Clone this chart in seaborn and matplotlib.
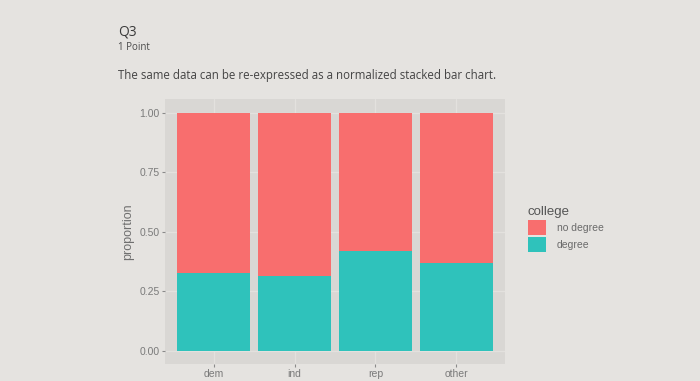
import pandas as pd
import matplotlib
matplotlib.use("Agg")
import matplotlib.pyplot as plt
import seaborn as sns

# Data
party = ["dem", "ind", "rep", "other"]
degree = [0.325, 0.314, 0.419, 0.371]
no_degree = [1 - d for d in degree]
college_levels = ["no degree", "degree"]
y_ticks = [0.00, 0.25, 0.50, 0.75, 1.00]

df = pd.DataFrame({
    "party": party * 2,
    "college": ["no degree"] * 4 + ["degree"] * 4,
    "prop": no_degree + degree,
})
df["party"] = pd.Categorical(df["party"], categories=party, ordered=True)

sns.set_style("white")
plt.rcParams["font.family"] = ["Liberation Sans", "DejaVu Sans"]

page = "#e5e3e0"
panel = "#d9d7d4"
red = "#f86e6e"
teal = "#2fc2bb"

fig = plt.figure(figsize=(7, 3.81), dpi=100, facecolor=page)
ax = fig.add_axes([0.236, 0.045, 0.485, 0.696])
ax.set_facecolor(panel)

sns.histplot(data=df, x="party", hue="college", weights="prop",
             hue_order=college_levels, multiple="fill", discrete=True,
             shrink=0.9, palette={"no degree": red, "degree": teal},
             alpha=1, linewidth=0, ax=ax)

ax.set_xlim(-0.6, 3.6)
ax.set_ylim(-0.054, 1.058)
ax.set_yticks(y_ticks)
ax.set_yticklabels([f"{t:.2f}" for t in y_ticks])
ax.grid(True, color="#e3e1de", linewidth=0.9)
ax.set_axisbelow(True)
for s in ax.spines.values():
    s.set_visible(False)
ax.tick_params(axis="both", colors="#8a8a8a", labelcolor="#7a7a7a",
               labelsize=7.5, length=2.5, width=0.8, pad=1.5,
               left=True, bottom=True)
ax.set_xlabel("")
ax.set_ylabel("proportion", fontsize=9, color="#6f6f6f")

sns.move_legend(ax, loc="upper left", bbox_to_anchor=(1.04, 0.63),
                frameon=False, title="college", fontsize=7.5,
                title_fontsize=9.5, handlelength=1.8, handleheight=1.9,
                labelspacing=0.15, handletextpad=1.0)
leg = ax.get_legend()
leg._legend_box.align = "left"
leg.get_title().set_color("#555555")
for t in leg.get_texts():
    t.set_color("#6a6a6a")

fig.text(118 / 700, 1 - 32 / 381, "Q3", fontsize=10, color="#3a3a3a",
         family="Open Sans", va="center")
fig.text(118 / 700, 1 - 47 / 381, "1 Point", fontsize=7, color="#4a4a4a",
         family="Open Sans", va="center")
fig.text(118 / 700, 1 - 75 / 381,
         "The same data can be re-expressed as a normalized stacked bar chart.",
         fontsize=8.3, color="#444444", family="Open Sans", va="center")

fig.savefig("out.png", dpi=100, facecolor=page)
